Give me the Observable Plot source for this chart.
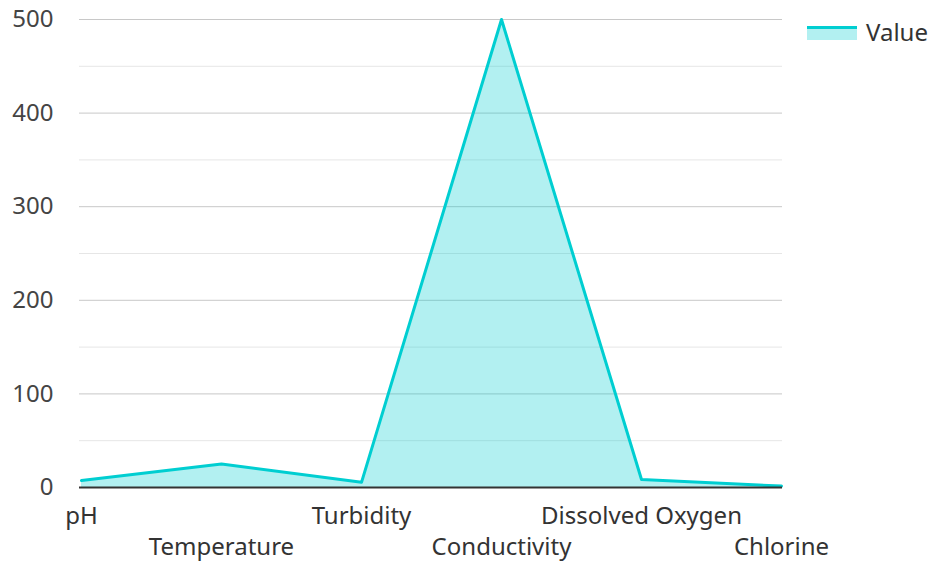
<!DOCTYPE html>
<html><head><meta charset="utf-8">
<script src="https://cdn.jsdelivr.net/npm/d3@7"></script>
<script src="https://cdn.jsdelivr.net/npm/@observablehq/plot@0.6"></script>
<style>
html,body{margin:0;padding:0;background:#fff;}
#wrap{position:relative;width:931px;height:561px;font-family:"Noto Sans",sans-serif;}
#legend{position:absolute;left:807px;top:15px;display:flex;align-items:center;font-size:24px;color:#333;z-index:2;}
#sw{width:50px;height:14px;background:rgba(0,206,209,0.3);border-top:3px solid #00CED1;box-sizing:border-box;margin-right:9px;margin-top:2px;}
svg{position:absolute;left:0;top:0;z-index:1;}
</style></head>
<body><div id="wrap"><div id="legend"><div id="sw"></div><span>Value</span></div></div>
<script>
const categories = ["pH","Temperature","Turbidity","Conductivity","Dissolved Oxygen","Chlorine"];
const values = [7.5, 25, 5.5, 500, 8.5, 1.5];
const majorTicks = [0,100,200,300,400,500];
const minorTicks = [50,150,250,350,450];

const data = categories.map((c,i)=>({category:c, value:values[i]}));
const color = "#00CED1";
const chart = Plot.plot({
  width: 931, height: 561,
  marginLeft: 79, marginRight: 149, marginTop: 19, marginBottom: 74,
  style: {fontFamily: "Noto Sans", fontSize: "24px", color: "#444", background: "#fff"},
  x: {type: "point", domain: categories, padding: 0, axis: null},
  y: {domain: [0, 500], axis: null},
  marks: [
    Plot.ruleY(minorTicks, {stroke: "#e6e6e6", strokeWidth: 1}),
    Plot.ruleY(majorTicks.filter(d=>d>0), {stroke: "#c8c8c8", strokeWidth: 1}),
    Plot.areaY(data, {x: "category", y: "value", fill: color, fillOpacity: 0.3, curve: "linear"}),
    Plot.lineY(data, {x: "category", y: "value", stroke: color, strokeWidth: 3, curve: "linear"}),
    Plot.ruleY([0], {stroke: "#333", strokeWidth: 2}),
    Plot.axisY(majorTicks, {tickSize: 0, tickPadding: 26, fontSize: 24, fill: "#444", label: null}),
    Plot.axisX(categories.filter((d,i)=>i%2===0), {tickSize: 0, tickPadding: 19, fontSize: 24, fill: "#333", label: null}),
    Plot.axisX(categories.filter((d,i)=>i%2===1), {tickSize: 0, tickPadding: 50, fontSize: 24, fill: "#333", label: null})
  ]
});
document.getElementById("wrap").appendChild(chart);
</script></body></html>
